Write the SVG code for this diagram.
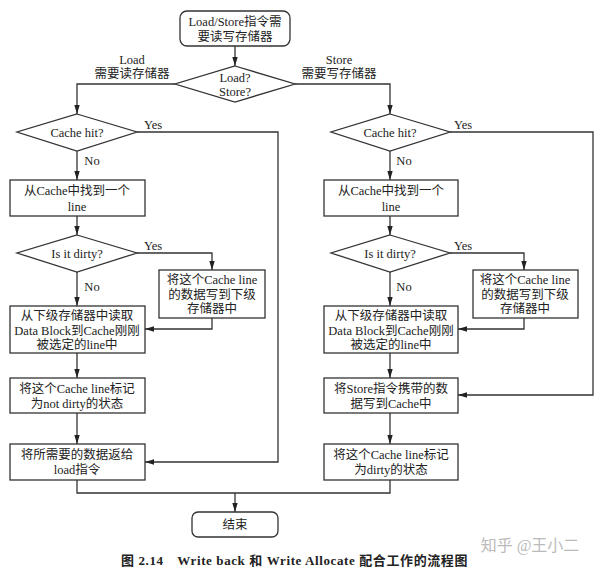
<svg xmlns="http://www.w3.org/2000/svg" width="600" height="572" viewBox="0 0 600 572">
<defs>
<marker id="a" viewBox="0 0 10 10" refX="10" refY="5" markerWidth="7" markerHeight="7" orient="auto-start-reverse"><path d="M0,2 L10,5 L0,8 z" fill="#222"/></marker>
<style>
.s{fill:#fff;stroke:#333;stroke-width:1.3}
.c{fill:none;stroke:#333;stroke-width:1.3}
text{font-family:"Liberation Serif","Noto Sans CJK SC",serif;font-size:12.5px;fill:#222;text-anchor:middle}
.l{text-anchor:start}
</style>
</defs>
<rect width="600" height="572" fill="#fff"/>
<g id="connectors">
<path class="c" d="M235,46 V66" marker-end="url(#a)"/>
<path class="c" d="M175,84 H77 V114" marker-end="url(#a)"/>
<path class="c" d="M295,84 H390 V114" marker-end="url(#a)"/>
<path class="c" d="M77,151 V180" marker-end="url(#a)"/>
<path class="c" d="M390,151 V180" marker-end="url(#a)"/>
<path class="c" d="M77,216 V235" marker-end="url(#a)"/>
<path class="c" d="M390,216 V235" marker-end="url(#a)"/>
<path class="c" d="M137,253 H212 V270" marker-end="url(#a)"/>
<path class="c" d="M450,253 H524 V270" marker-end="url(#a)"/>
<path class="c" d="M77,272 V306" marker-end="url(#a)"/>
<path class="c" d="M390,272 V306" marker-end="url(#a)"/>
<path class="c" d="M212,318 V329 H145" marker-end="url(#a)"/>
<path class="c" d="M524,318 V329 H458" marker-end="url(#a)"/>
<path class="c" d="M77,353 V378" marker-end="url(#a)"/>
<path class="c" d="M390,353 V378" marker-end="url(#a)"/>
<path class="c" d="M77,413 V444" marker-end="url(#a)"/>
<path class="c" d="M390,413 V444" marker-end="url(#a)"/>
<path class="c" d="M137,132 H278 V462 H145" marker-end="url(#a)"/>
<path class="c" d="M450,132 H593 V395 H458" marker-end="url(#a)"/>
<path class="c" d="M77,480 V493 H390 V480"/>
<path class="c" d="M235,493 V512" marker-end="url(#a)"/>
</g>
<g id="labels">
<text x="132" y="64">Load</text><text x="132" y="78">需要读存储器</text>
<text x="339" y="64">Store</text><text x="339" y="78">需要写存储器</text>
<text x="153" y="129">Yes</text><text x="463" y="129">Yes</text>
<text x="92" y="165">No</text><text x="404" y="165">No</text>
<text x="153" y="250">Yes</text><text x="463" y="250">Yes</text>
<text x="92" y="291">No</text><text x="404" y="291">No</text>
</g>
<g id="start"><rect class="s" x="180" y="11" width="110" height="35" rx="7"/><text x="235" y="26">Load/Store指令需</text><text x="235" y="41">要读写存储器</text></g>
<g id="d0"><path class="s" d="M235,66 L295,84 L235,102 L175,84 z"/><text x="235" y="82">Load?</text><text x="235" y="96">Store?</text></g>
<g id="lhit"><path class="s" d="M77,114 L137,132 L77,151 L17,132 z"/><text x="77" y="137">Cache hit?</text></g>
<g id="rhit"><path class="s" d="M390,114 L450,132 L390,151 L331,132 z"/><text x="390" y="137">Cache hit?</text></g>
<g id="lfind"><rect class="s" x="10" y="180" width="135" height="36"/><text x="77" y="195">从Cache中找到一个</text><text x="77" y="211">line</text></g>
<g id="rfind"><rect class="s" x="324" y="180" width="134" height="36"/><text x="391" y="195">从Cache中找到一个</text><text x="391" y="211">line</text></g>
<g id="ldirty"><path class="s" d="M77,235 L137,253 L77,272 L17,253 z"/><text x="77" y="258">Is it dirty?</text></g>
<g id="rdirty"><path class="s" d="M390,235 L450,253 L390,272 L331,253 z"/><text x="390" y="258">Is it dirty?</text></g>
<g id="lwb"><rect class="s" x="159" y="270" width="106" height="48"/><text x="212" y="284">将这个Cache line</text><text x="212" y="299">的数据写到下级</text><text x="212" y="313">存储器中</text></g>
<g id="rwb"><rect class="s" x="473" y="270" width="105" height="48"/><text x="525" y="284">将这个Cache line</text><text x="525" y="299">的数据写到下级</text><text x="525" y="313">存储器中</text></g>
<g id="lread"><rect class="s" x="10" y="306" width="135" height="47"/><text x="77" y="320">从下级存储器中读取</text><text x="77" y="335">Data Block到Cache刚刚</text><text x="77" y="349">被选定的line中</text></g>
<g id="rread"><rect class="s" x="324" y="306" width="134" height="47"/><text x="391" y="320">从下级存储器中读取</text><text x="391" y="335">Data Block到Cache刚刚</text><text x="391" y="349">被选定的line中</text></g>
<g id="lmark"><rect class="s" x="10" y="378" width="135" height="35"/><text x="77" y="393">将这个Cache line标记</text><text x="77" y="408">为not dirty的状态</text></g>
<g id="rstore"><rect class="s" x="324" y="378" width="134" height="35"/><text x="391" y="393">将Store指令携带的数</text><text x="391" y="408">据写到Cache中</text></g>
<g id="lret"><rect class="s" x="10" y="444" width="135" height="36"/><text x="77" y="459">将所需要的数据返给</text><text x="77" y="474">load指令</text></g>
<g id="rmark"><rect class="s" x="324" y="444" width="134" height="36"/><text x="391" y="459">将这个Cache line标记</text><text x="391" y="474">为dirty的状态</text></g>
<g id="end"><rect class="s" x="192" y="512" width="86" height="25" rx="6"/><text x="235" y="529">结束</text></g>
<text x="121" y="565" class="l" style="font-size:13px;font-weight:bold;letter-spacing:0.6px">图 2.14　Write back 和 Write Allocate 配合工作的流程图</text>
<text x="530" y="551" style="font-size:16px;fill:#bbb">知乎 @王小二</text>
</svg>
